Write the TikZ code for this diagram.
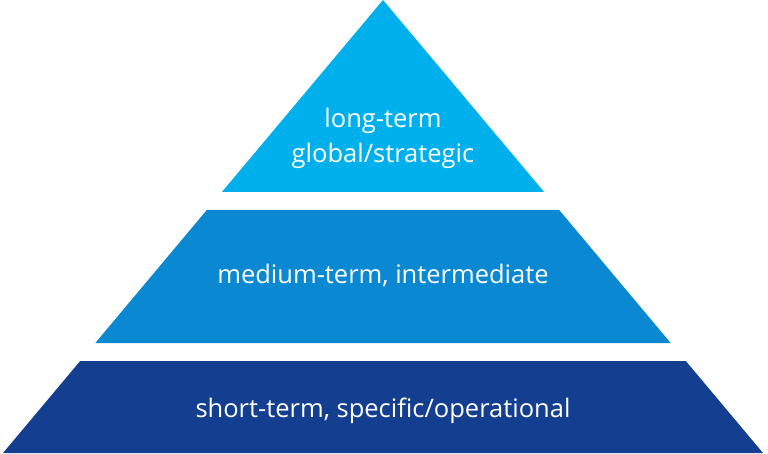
\documentclass[tikz,border=0pt]{standalone}
\usepackage{fontspec}
\setmainfont{Open Sans}
\definecolor{toplevel}{HTML}{00B0EC}
\definecolor{midlevel}{HTML}{0A89D2}
\definecolor{lowlevel}{HTML}{143F91}
\tikzset{label text/.style = {text = white, font = \fontsize{25.5}{30}\selectfont, anchor = base, inner sep = 0pt}}
\begin{document}
\begin{tikzpicture}[x = 1pt, y = 1pt]
\useasboundingbox (0,0) rectangle (768,453);
\fill [toplevel] (383,453) -- (544.1,261) -- (221.9,261) -- cycle;
\fill [midlevel] (206.8,243) -- (559.2,243) -- (670.7,110) -- (95.3,110) -- cycle;
\fill [lowlevel] (80.2,92) -- (685.8,92) -- (763,0) -- (3,0) -- cycle;
\node [label text] (longterm) at (383,325) {long-term};
\node [label text] (global) at (383,290) {global/strategic};
\node [label text] (medium) at (383,170) {medium-term, intermediate};
\node [label text] (short) at (383,36) {short-term, specific/operational};
\end{tikzpicture}
\end{document}
